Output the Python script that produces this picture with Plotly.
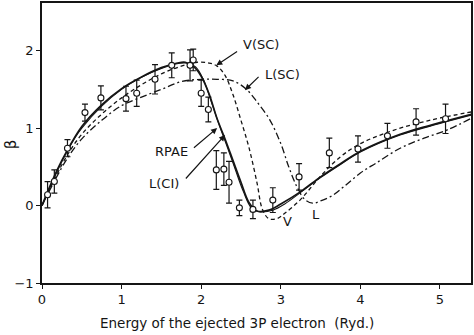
import plotly.graph_objects as go

# ---- experimental data (energy, beta, error) ----
exp_E   = [0.07, 0.155, 0.32, 0.54, 0.74, 1.055, 1.19, 1.42, 1.63, 1.86, 1.90, 2.00, 2.09,
           2.19, 2.285, 2.35, 2.48, 2.65, 2.90, 3.23, 3.61, 3.97, 4.34, 4.70, 5.07]
exp_b   = [0.14, 0.31, 0.74, 1.20, 1.39, 1.38, 1.45, 1.63, 1.81, 1.81, 1.88, 1.45, 1.24,
           0.46, 0.47, 0.30, -0.03, -0.05, 0.07, 0.37, 0.68, 0.73, 0.90, 1.08, 1.12]
exp_err = [0.17, 0.15, 0.11, 0.11, 0.155, 0.16, 0.17, 0.19, 0.16, 0.20, 0.14, 0.17, 0.16,
           0.25, 0.21, 0.27, 0.10, 0.12, 0.16, 0.17, 0.19, 0.17, 0.16, 0.17, 0.19]

# ---- theory curves ----
rpae_E = [0, 0.1, 0.2, 0.3, 0.5, 0.75, 1.0, 1.25, 1.5, 1.7, 1.8, 1.9, 2.0, 2.1, 2.2, 2.3, 2.4,
          2.5, 2.6, 2.7, 2.85, 3.0, 3.25, 3.5, 3.75, 4.0, 4.25, 4.5, 4.75, 5.0, 5.4]
rpae_b = [0, 0.25, 0.48, 0.68, 1.02, 1.30, 1.51, 1.66, 1.78, 1.84, 1.85, 1.80, 1.67, 1.44, 1.12,
          0.86, 0.58, 0.30, 0.04, -0.07, -0.06, 0.02, 0.18, 0.37, 0.54, 0.70, 0.82, 0.92, 1.00, 1.07, 1.18]

lci_E = [0, 0.3, 0.5, 1.0, 1.5, 1.8, 1.93, 2.03, 2.13, 2.23, 2.33, 2.43, 2.53, 2.63, 2.73,
         2.9, 3.05, 3.25, 3.5, 3.75, 4.0, 4.5, 5.0, 5.4]
lci_b = [0, 0.67, 1.00, 1.50, 1.77, 1.84, 1.79, 1.62, 1.33, 1.03, 0.75, 0.46, 0.18, -0.03, -0.08,
         -0.06, 0.02, 0.17, 0.36, 0.53, 0.69, 0.91, 1.06, 1.17]

vsc_E = [0, 0.3, 0.5, 0.75, 1.0, 1.25, 1.5, 1.75, 1.95, 2.1, 2.2, 2.3, 2.4, 2.5, 2.6, 2.7,
         2.77, 2.85, 2.95, 3.05, 3.25, 3.5, 3.75, 4.0, 4.25, 4.5, 4.75, 5.0, 5.4]
vsc_b = [0, 0.62, 0.92, 1.18, 1.39, 1.56, 1.70, 1.80, 1.85, 1.84, 1.80, 1.68, 1.43, 1.10, 0.75,
         0.30, -0.05, -0.17, -0.17, -0.10, 0.08, 0.38, 0.63, 0.80, 0.91, 1.00, 1.07, 1.13, 1.21]

lsc_E = [0, 0.3, 0.5, 0.75, 1.0, 1.25, 1.5, 1.75, 2.0, 2.2, 2.4, 2.57, 2.7, 2.86, 3.0, 3.1,
         3.2, 3.3, 3.4, 3.5, 3.65, 3.8, 4.0, 4.2, 4.5, 4.8, 5.1, 5.4]
lsc_b = [0, 0.58, 0.86, 1.10, 1.29, 1.40, 1.50, 1.60, 1.63, 1.63, 1.61, 1.50, 1.34, 1.11, 0.80,
         0.50, 0.25, 0.08, 0.03, 0.06, 0.13, 0.25, 0.42, 0.55, 0.74, 0.87, 0.98, 1.13]

# ---- labels ----
lab_text = ["V(SC)", "L(SC)", "RPAE", "L(CI)", "V", "L"]
lab_E    = [2.75, 3.02, 1.63, 1.53, 3.08, 3.44]
lab_b    = [2.08, 1.69, 0.70, 0.28, -0.21, -0.12]

arr_tail_E = [2.47, 2.74, 1.89, 1.79]
arr_tail_b = [2.00, 1.68, 0.73, 0.33]
arr_tip_E  = [2.19, 2.55, 2.20, 2.30]
arr_tip_b  = [1.81, 1.49, 1.00, 0.91]

x_ticks = [0, 1, 2, 3, 4, 5]
y_ticks = [-1, 0, 1, 2]

INK = "#151515"
fig = go.Figure()

fig.add_trace(go.Scatter(x=lsc_E, y=lsc_b, mode="lines", line_shape="spline",
                         line=dict(color=INK, width=1.3, dash="7px,3px,2px,3px"), showlegend=False))
fig.add_trace(go.Scatter(x=vsc_E, y=vsc_b, mode="lines", line_shape="spline",
                         line=dict(color=INK, width=1.3, dash="4px,3px"), showlegend=False))
fig.add_trace(go.Scatter(x=lci_E, y=lci_b, mode="lines", line_shape="spline",
                         line=dict(color=INK, width=1.1), showlegend=False))
fig.add_trace(go.Scatter(x=rpae_E, y=rpae_b, mode="lines", line_shape="spline",
                         line=dict(color=INK, width=1.7), showlegend=False))
fig.add_trace(go.Scatter(x=exp_E, y=exp_b, mode="markers",
                         marker=dict(symbol="circle", size=6, color="white",
                                     line=dict(color=INK, width=1.1)),
                         error_y=dict(type="data", array=exp_err, visible=True,
                                      color=INK, thickness=1.2, width=3),
                         showlegend=False))

font = dict(family="DejaVu Sans, Liberation Sans, sans-serif", size=13, color=INK)

for t, xe, yb in zip(lab_text, lab_E, lab_b):
    fig.add_annotation(x=xe, y=yb, text=t, showarrow=False, font=dict(font, size=13),
                       xanchor="center", yanchor="middle")
for tx, ty, hx, hy in zip(arr_tail_E, arr_tail_b, arr_tip_E, arr_tip_b):
    fig.add_annotation(x=hx, y=hy, ax=tx, ay=ty, axref="x", ayref="y", text="",
                       showarrow=True, arrowhead=2, arrowsize=1, arrowwidth=1.2,
                       arrowcolor=INK, standoff=0, startstandoff=0)

fig.add_annotation(xref="paper", yref="paper", x=(238 - 42) / 431, y=-(323 - 283) / 282,
                   text="Energy of the ejected 3P electron  (Ryd.)", showarrow=False,
                   font=dict(font, size=13.5), xanchor="center", yanchor="middle")
fig.add_annotation(xref="paper", yref="paper", x=-(42 - 11) / 431, y=(283 - 143) / 282,
                   text="β", showarrow=False, textangle=-90,
                   font=dict(font, size=15), xanchor="center", yanchor="middle")

fig.update_layout(
    width=474, height=335,
    margin=dict(l=42, r=1, t=1, b=52),
    paper_bgcolor="white", plot_bgcolor="white",
    font=font,
    xaxis=dict(range=[0, 5.39], tickvals=x_ticks, ticks="outside", ticklen=4, tickwidth=1.2,
               tickcolor=INK, showgrid=False, zeroline=False, showline=True, linewidth=1.6,
               linecolor=INK, mirror=True, tickfont=dict(font, size=13)),
    yaxis=dict(range=[-1, 2.615], tickvals=y_ticks, ticktext=["−1", "0", "1", "2"],
               ticks="outside", ticklen=4, tickwidth=1.2, tickcolor=INK, showgrid=False,
               zeroline=False, showline=True, linewidth=1.6, linecolor=INK, mirror=True,
               tickfont=dict(font, size=13)),
)

fig.write_html("out.html")
